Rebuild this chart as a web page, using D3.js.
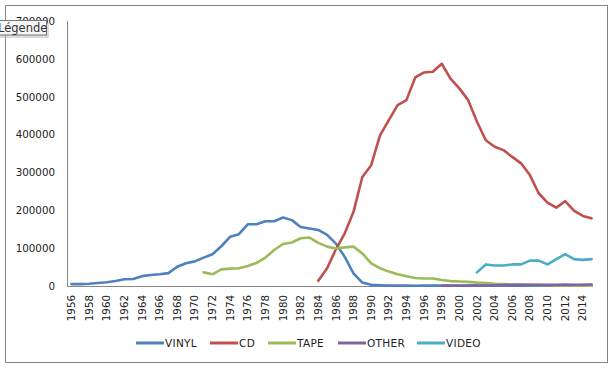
<!DOCTYPE html>
<html>
<head>
<meta charset="utf-8">
<script src="https://cdn.jsdelivr.net/npm/d3@7"></script>
<style>
  body { margin: 0; background: #fff; }
  svg { display: block; }
  text { font-family: "DejaVu Sans", Verdana, sans-serif; }
</style>
</head>
<body>
<svg id="chart" width="616" height="370"></svg>
<script>
// categories
const years = [1956, 1957, 1958, 1959, 1960, 1961, 1962, 1963, 1964, 1965,
  1966, 1967, 1968, 1969, 1970, 1971, 1972, 1973, 1974, 1975,
  1976, 1977, 1978, 1979, 1980, 1981, 1982, 1983, 1984, 1985,
  1986, 1987, 1988, 1989, 1990, 1991, 1992, 1993, 1994, 1995,
  1996, 1997, 1998, 1999, 2000, 2001, 2002, 2003, 2004, 2005,
  2006, 2007, 2008, 2009, 2010, 2011, 2012, 2013, 2014, 2015];

// series values, one per year (null = no data)
const vinyl = [5000, 5000, 6000, 8000, 10000, 13000, 18000, 18500, 26000, 29000,
  31000, 34000, 51000, 60000, 65000, 75000, 84000, 105000, 130000, 137000,
  163000, 163000, 171000, 171000, 181000, 174000, 156000, 152000, 148000, 135000,
  112000, 77000, 33000, 9000, 3000, 2000, 1500, 1200, 1000, 800,
  1200, 1500, 1500, 1500, 1500, 1500, 1200, 1000, 1000, 800,
  800, 800, 1200, 1500, 1500, 1500, 1800, 2000, 2200, 2400];

const cd = [null, null, null, null, null, null, null, null, null, null,
  null, null, null, null, null, null, null, null, null, null,
  null, null, null, null, null, null, null, null, 14000, 47000,
  97000, 139000, 196000, 288000, 319000, 398000, 438000, 478000, 491000, 551000,
  564000, 566000, 587000, 548000, 522000, 491000, 434000, 385000, 368000, 359000,
  341000, 324000, 293000, 245000, 220000, 207000, 224000, 199000, 185000, 179000];

const tape = [null, null, null, null, null, null, null, null, null, null,
  null, null, null, null, null, 36000, 31000, 44000, 46000, 47000,
  53000, 61000, 75000, 95000, 111000, 115000, 126000, 128000, 114000, 104000,
  99000, 102000, 104000, 86000, 60000, 47000, 38000, 31000, 26000, 21000,
  20000, 20000, 16000, 13000, 12000, 11000, 9000, 8000, 6000, 5000,
  4000, 4000, 3500, 2500, 2000, 1500, 1200, 1000, 800, 600];

const other = [null, null, null, null, null, null, null, null, null, null,
  null, null, null, null, null, null, null, null, null, null,
  null, null, null, null, null, null, null, null, null, null,
  null, null, null, null, null, null, null, null, null, null,
  null, null, 500, 600, 800, 1000, 1200, 1500, 2000, 2500,
  3000, 3000, 3500, 3500, 3000, 3500, 4000, 3500, 3500, 4000];

const video = [null, null, null, null, null, null, null, null, null, null,
  null, null, null, null, null, null, null, null, null, null,
  null, null, null, null, null, null, null, null, null, null,
  null, null, null, null, null, null, null, null, null, null,
  null, null, null, null, null, null, 36000, 57000, 54000, 54000,
  57000, 57000, 67000, 67000, 57000, 71000, 84000, 71000, 69000, 71000];

const seriesNames = ['VINYL', 'CD', 'TAPE', 'OTHER', 'VIDEO'];
const seriesColors = ['#4f81bd', '#c0504d', '#9bbb59', '#8064a2', '#4bacc6'];
const yTicks = [0, 100000, 200000, 300000, 400000, 500000, 600000, 700000];
const xTickYears = years.filter((d, i) => i % 2 === 0);

const series = [vinyl, cd, tape, other, video].map((vals, i) => ({
  name: seriesNames[i],
  color: seriesColors[i],
  values: years.map((yr, j) => ({ year: yr, value: vals[j] }))
}));

const svg = d3.select('#chart');
const plotLeft = 67, plotRight = 596, plotTop = 21, plotBottom = 286;

const x = d3.scaleBand().domain(years).range([plotLeft, plotRight]);
const y = d3.scaleLinear().domain([0, 700000]).range([plotBottom, plotTop]);

// outer chart border
svg.append('rect')
  .attr('x', 5.5).attr('y', 5.5)
  .attr('width', 602).attr('height', 357)
  .attr('fill', '#fff')
  .attr('stroke', '#868686');

// y axis
const yAxis = svg.append('g')
  .attr('transform', `translate(${plotLeft},0)`)
  .call(d3.axisLeft(y).tickValues(yTicks).tickSize(0).tickPadding(12).tickFormat(d3.format('d')));
yAxis.select('.domain').remove();
yAxis.selectAll('text').attr('font-size', 10.3).attr('fill', '#222')
  .attr('font-family', '"DejaVu Sans", Verdana, sans-serif');

// x axis
const xAxis = svg.append('g')
  .attr('transform', `translate(0,${plotBottom})`)
  .call(d3.axisBottom(x).tickValues(xTickYears).tickSize(0).tickFormat(d3.format('d')));
xAxis.select('.domain').remove();
xAxis.selectAll('text')
  .attr('font-size', 10.3).attr('fill', '#222')
  .attr('font-family', '"DejaVu Sans", Verdana, sans-serif')
  .attr('transform', 'rotate(-90)')
  .attr('text-anchor', 'end')
  .attr('x', -9).attr('y', 0).attr('dy', '0.35em');

// axis lines
svg.append('line')
  .attr('x1', plotLeft + 0.5).attr('x2', plotLeft + 0.5)
  .attr('y1', plotTop).attr('y2', plotBottom)
  .attr('stroke', '#868686');
svg.append('line')
  .attr('x1', plotLeft).attr('x2', plotRight - 3)
  .attr('y1', plotBottom + 0.5).attr('y2', plotBottom + 0.5)
  .attr('stroke', '#868686');

// lines
const line = d3.line()
  .defined(d => d.value !== null)
  .x(d => x(d.year) + x.bandwidth() / 2)
  .y(d => y(d.value));

svg.append('g').selectAll('path')
  .data(series)
  .join('path')
  .attr('d', d => line(d.values))
  .attr('fill', 'none')
  .attr('stroke', d => d.color)
  .attr('stroke-width', 2.6)
  .attr('stroke-linejoin', 'round')
  .attr('stroke-linecap', 'round');

// legend
const legendX = [136, 210, 268, 338, 417];
const legend = svg.append('g').selectAll('g')
  .data(series)
  .join('g')
  .attr('transform', (d, i) => `translate(${legendX[i]},343)`);
legend.append('line')
  .attr('x1', 0).attr('x2', 28)
  .attr('stroke', d => d.color)
  .attr('stroke-width', 3);
legend.append('text')
  .attr('x', 29).attr('dy', '0.36em')
  .attr('font-size', 10.5).attr('fill', '#222')
  .attr('letter-spacing', 0.3)
  .text(d => d.name);

// "Légende" tooltip over the top-left corner
const tip = svg.append('g');
tip.append('rect')
  .attr('x', -4).attr('y', 23).attr('width', 53).attr('height', 15)
  .attr('fill', '#b8b8b8').attr('opacity', 0.5);
tip.append('rect')
  .attr('x', -5.5).attr('y', 20.5).attr('width', 52).attr('height', 14.5)
  .attr('fill', '#f6f6f8').attr('stroke', '#767676');
tip.append('text')
  .attr('x', -2).attr('y', 32)
  .attr('font-size', 11.5).attr('fill', '#333')
  .text('Légende');
</script>
</body>
</html>
